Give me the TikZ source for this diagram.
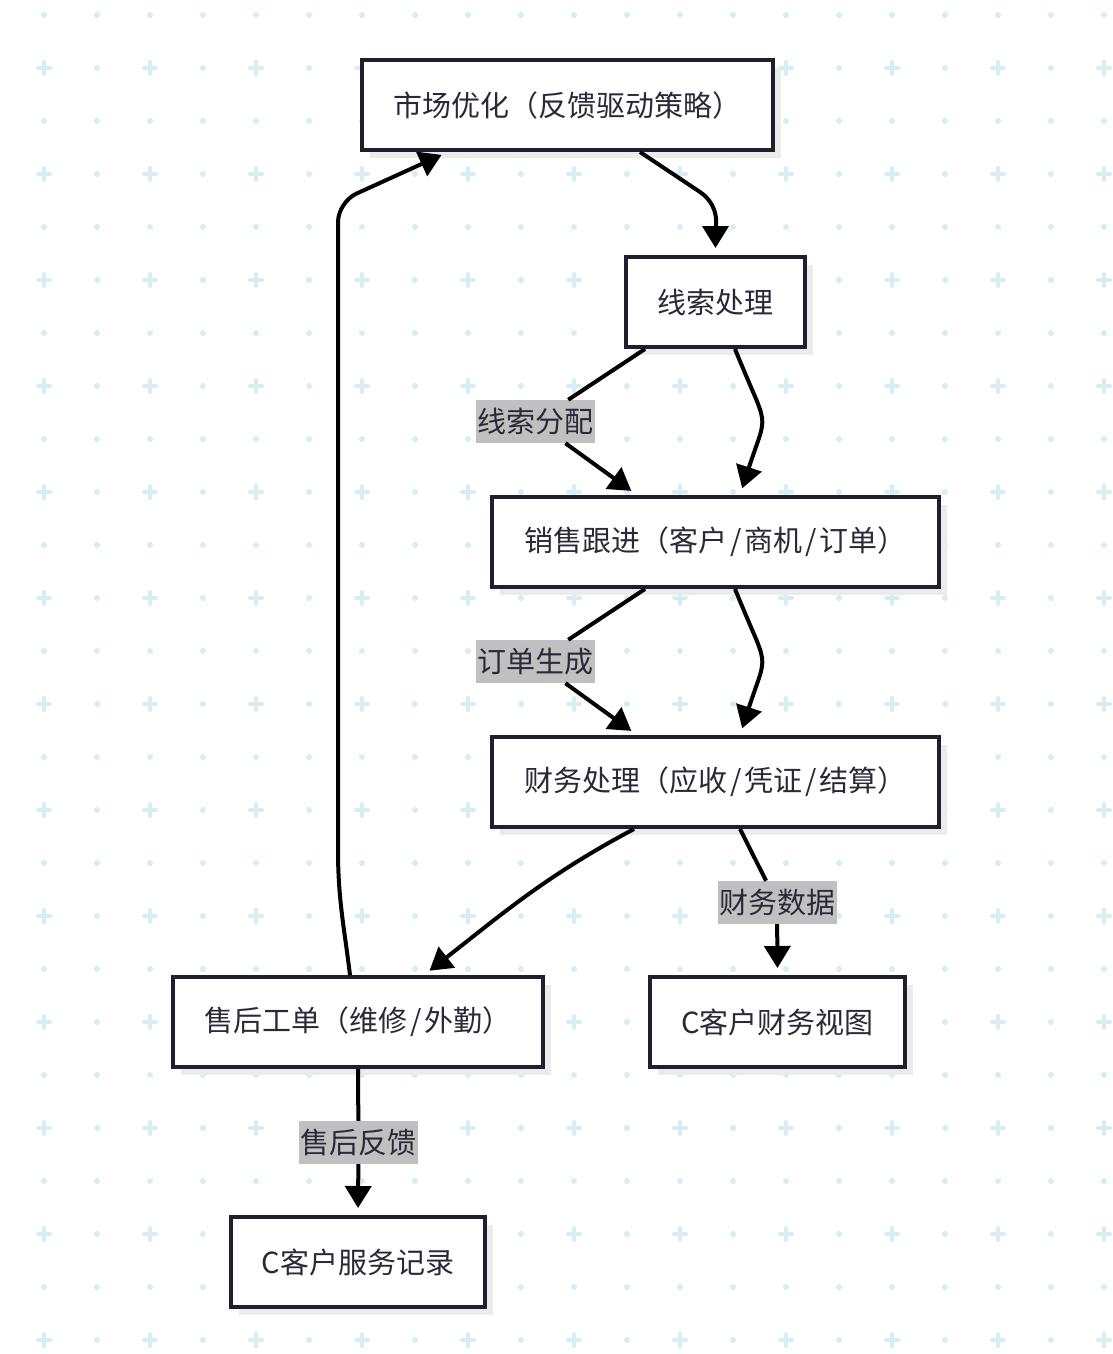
\documentclass[tikz,border=0pt]{standalone}
\usepackage{fontspec}
\setmainfont{Noto Sans CJK SC}
\usetikzlibrary{positioning,arrows.meta,shadows}
\definecolor{borda}{RGB}{33,30,48}
\definecolor{texto}{RGB}{43,41,56}
\definecolor{cinza}{RGB}{192,192,192}
\definecolor{sombra}{RGB}{235,235,235}
\definecolor{ponto}{RGB}{214,238,243}
\newcommand{\barra}{\hspace{3pt}/\hspace{3pt}}

\begin{document}
\begin{tikzpicture}
            [
                x=1pt, y=1pt,
                etapa/.style={rectangle, draw=borda, line width=4pt, fill=white, text=texto,
                    font=\fontsize{29}{33}\selectfont, minimum height=90pt, inner sep=0pt,
                    drop shadow={fill=sombra, opacity=1, shadow xshift=8pt, shadow yshift=-8pt}},
                rotulo/.style={fill=cinza, text=texto, font=\fontsize{29}{33}\selectfont,
                    minimum height=43pt, inner xsep=1.5pt, inner ysep=0pt},
                linha/.style={draw=black, line width=4pt},
                fluxo/.style={linha, -{Triangle[length=22pt,width=26pt]}, shorten >=7pt},
            ]
            %fundo
            \useasboundingbox (0,0) rectangle (1112,-1354);
            \fill[white] (0,0) rectangle (1112,-1354);
            \foreach \y in {15,121,...,1287}
                \foreach \x in {44,97,...,1104}
                    \fill[ponto] (\x,-\y) circle (3);
            \foreach \y in {68,174,...,1340}
                \foreach \x in {97,203,...,1051}
                    \fill[ponto] (\x,-\y) circle (3);
            \foreach \y in {68,174,...,1340}
                \foreach \x in {44,150,...,1104}
                    \draw[ponto, line width=4pt, line cap=round] (\x-6,-\y) -- (\x+6,-\y) (\x,-\y-6) -- (\x,-\y+6);
            %etapas
            \node[etapa, minimum width=411pt] (e1) at (567.5,-105) {市场优化（反馈驱动策略）};
            \node[etapa, minimum width=179pt] (e2) at (715.5,-302) {线索处理};
            \node[etapa, minimum width=447pt] (e3) at (715.5,-542) {销售跟进（客户\barra 商机\barra 订单）};
            \node[etapa, minimum width=447pt] (e4) [below=146pt of e3] {财务处理（应收\barra 凭证\barra 结算）};
            \node[etapa, minimum width=370pt] (e5) at (358,-1022) {售后工单（维修\barra 外勤）};
            \node[etapa, minimum width=255pt] (e6) at (777.5,-1022) {C客户财务视图};
            \node[etapa, minimum width=254pt] (e7) [below=146pt of e5] {C客户服务记录};
            %rotulos
            \node[rotulo] (r1) at (535.5,-421.5) {线索分配};
            \node[rotulo] (r2) at (535.5,-661.5) {订单生成};
            \node[rotulo] (r3) at (777,-902.5) {财务数据};
            \node[rotulo] (r4) at (358.5,-1142.5) {售后反馈};
            %fluxos
            \draw[fluxo] ([xshift=72.5pt]e1.south) -- ++(60,-40) to[out=-34,in=90] (e2.north);
            \draw[linha] ([xshift=-70.5pt]e2.south) -- (r1);
            \draw[fluxo] (r1) -- ([xshift=-78.5pt]e3.north);
            \draw[fluxo] ([xshift=19.5pt]e2.south) to[out=-68,in=72,looseness=1.6] ([xshift=24.5pt]e3.north);
            \draw[linha] ([xshift=-70.5pt]e3.south) -- (r2);
            \draw[fluxo] (r2) -- ([xshift=-78.5pt]e4.north);
            \draw[fluxo] ([xshift=19.5pt]e3.south) to[out=-68,in=72,looseness=1.6] ([xshift=24.5pt]e4.north);
            \draw[fluxo] ([xshift=-81.5pt]e4.south) to[out=-152,in=38] ([xshift=66pt]e5.north);
            \draw[linha] ([xshift=24.5pt]e4.south) -- (r3);
            \draw[fluxo] (r3) -- (e6.north);
            \draw[linha] (e5.south) -- (r4);
            \draw[fluxo] (r4) -- (e7.north);
            \draw[fluxo] ([xshift=-8pt]e5.north) to[out=97,in=-90] ++(-12,125)
                [rounded corners=20pt] -- ++(0,648) -- ([xshift=-119.5pt]e1.south);
        \end{tikzpicture}
\end{document}
